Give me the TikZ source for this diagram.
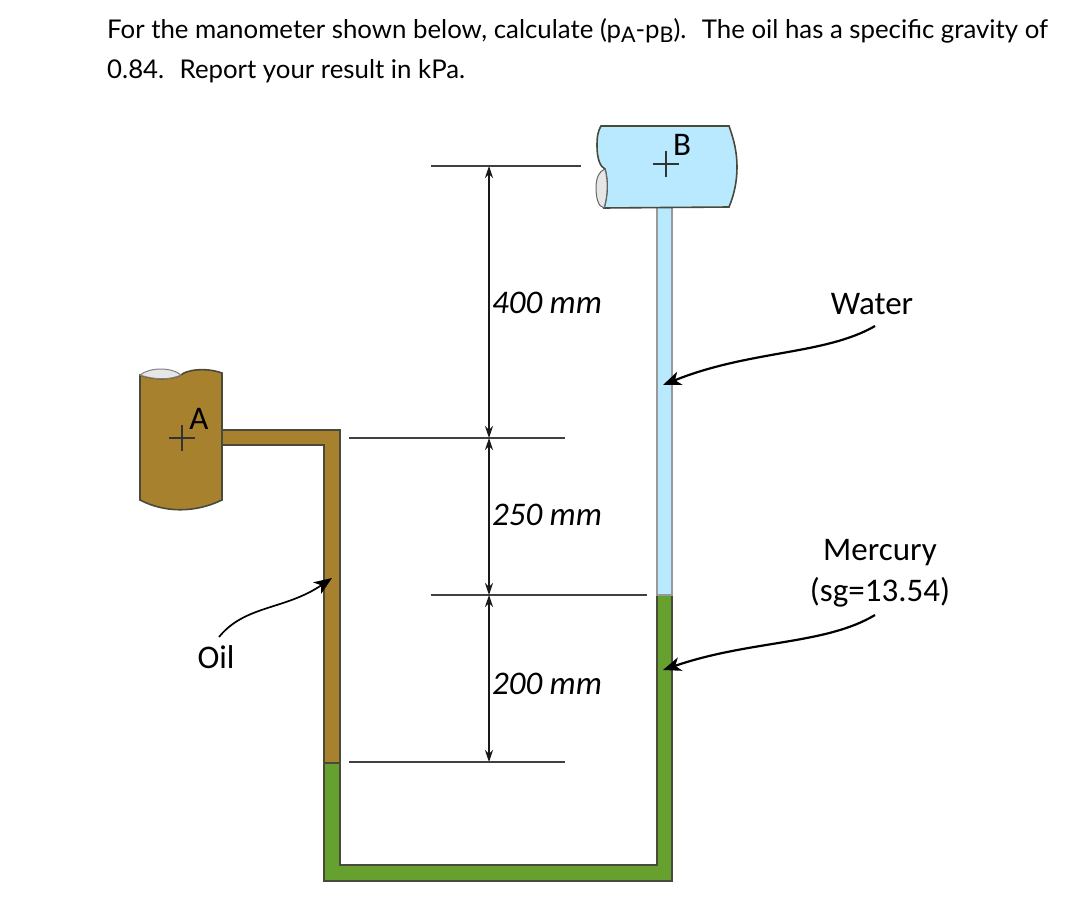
\documentclass[tikz,border=0pt]{standalone}
\usepackage{fontspec}
\setmainfont{Lato}
\newfontfamily\calloutfont{Carlito}
\usetikzlibrary{arrows.meta}
\definecolor{waterblue}{HTML}{B8E9FF}
\definecolor{oilbrown}{HTML}{A8812F}
\definecolor{mercurygreen}{HTML}{66A02F}
\definecolor{pipeedge}{HTML}{4A4A3A}
\definecolor{capgray}{HTML}{E6E6E6}
\tikzset{
	question/.style={anchor=base west,inner sep=0pt,font=\fontsize{25.8}{30}\selectfont},
	label/.style={inner sep=0pt,align=center,font=\calloutfont\fontsize{33}{41}\selectfont},
	dimlabel/.style={inner sep=0pt,font=\calloutfont\fontsize{33}{36}\selectfont\itshape},
	pipe/.style={draw=pipeedge,line width=1.6pt},
	levelline/.style={draw=black!75,line width=1.5pt},
	dimarrow/.style={draw=black!90,line width=1.2pt,{Stealth[length=12pt,width=8pt]}-{Stealth[length=12pt,width=8pt]}},
	leader/.style={draw=black,line width=2.2pt,-{Stealth[length=18pt,width=14pt,inset=5pt]}},
	crosshair/.style={draw=black!80,line width=1.5pt}
}
\begin{document}
\begin{tikzpicture}[x=1pt,y=-1pt]
			\useasboundingbox (0,0) rectangle (1090,915);
			\node[question] (lineone) at (107,39) {For the manometer shown below, calculate (p\raisebox{-4pt}{\fontsize{21.5}{21.5}\selectfont A}-p\raisebox{-4pt}{\fontsize{21.5}{21.5}\selectfont B}). \ The oil has a specific gravity of};
			\node[question] (linetwo) at (107,79) {0.84. \ Report your result in kPa.};
			% mercury and oil in the U tube
			\filldraw[pipe,fill=mercurygreen] (324,763) -- (324,881) -- (672,881) -- (672,595) -- (657,595) -- (657,865) -- (340,865) -- (340,763) -- cycle;
			\filldraw[pipe,fill=oilbrown] (222,430) -- (340,430) -- (340,763) -- (324,763) -- (324,445) -- (222,445) -- cycle;
			\filldraw[pipe,draw=black!40,fill=waterblue] (657,205) rectangle (672,595);
			% pipe B
			\filldraw[pipe,fill=waterblue] (601,126) -- (729,126) .. controls (734,140) and (737,152) .. (737,167) .. controls (737,182) and (734,195) .. (729,207) -- (604,208) .. controls (608,195) and (608,180) .. (605,169) .. controls (600,167) and (597,158) .. (597,146) .. controls (597,136) and (598,131) .. (601,126) -- cycle;
			\filldraw[draw=black!60,line width=1pt,fill=capgray] (604,208) .. controls (598,207) and (596,197) .. (596,188) .. controls (596,178) and (599,171) .. (605,169) .. controls (608,180) and (608,195) .. (604,208) -- cycle;
			% pipe A
			\filldraw[pipe,fill=oilbrown] (140,375) .. controls (155,380) and (170,380) .. (181,375) .. controls (186,370) and (205,367) .. (222,373) -- (222,500) .. controls (195,513) and (165,513) .. (140,500) -- cycle;
			\filldraw[draw=black!50,line width=1pt,fill=capgray] (140,375) .. controls (150,367) and (172,367) .. (181,375) .. controls (170,380) and (155,380) .. (140,375) -- cycle;
			\draw[crosshair] (169,438) -- (195,438) (182,425) -- (182,451);
			\draw[crosshair] (653,164) -- (679,164) (666,151) -- (666,177);
			\node[label] (pointa) at (199,419) {A};
			\node[label] (pointb) at (682,145) {B};
			% levels
			\coordinate (levelb) at (489,166);
			\coordinate (levela) at (489,438);
			\coordinate (levelwater) at (489,595);
			\coordinate (leveloil) at (489,762);
			\draw[levelline] (431,166) -- (581,166);
			\draw[levelline] (349,438) -- (565,438);
			\draw[levelline] (431,595) -- (647,595);
			\draw[levelline] (349,762) -- (565,762);
			\draw[dimarrow] (levelb) -- (levela);
			\draw[dimarrow] (levela) -- (levelwater);
			\draw[dimarrow] (levelwater) -- (leveloil);
			\node[dimlabel] (dimfourhundred) at (547,303) {400 mm};
			\node[dimlabel] (dimtwofifty) at (547,515) {250 mm};
			\node[dimlabel] (dimtwohundred) at (547,684) {200 mm};
			% fluid labels
			\node[label] (water) at (872,304) {Water};
			\node[label] (mercury) at (880,573) {Mercury\\(sg=13.54)};
			\node[label] (oil) at (216,657) {Oil};
			\coordinate (watertail) at (875,326);
			\coordinate (watertip) at (663,385);
			\coordinate (mercurytail) at (875,615);
			\coordinate (mercurytip) at (663,670);
			\coordinate (oiltail) at (219,637);
			\coordinate (oiltip) at (332,578);
			\draw[leader] (watertail) .. controls (825,355) and (750,350) .. (watertip);
			\draw[leader] (mercurytail) .. controls (825,645) and (750,640) .. (mercurytip);
			\draw[leader,line width=1.7pt] (oiltail) .. controls (245,605) and (285,610) .. (oiltip);
		\end{tikzpicture}
\end{document}
